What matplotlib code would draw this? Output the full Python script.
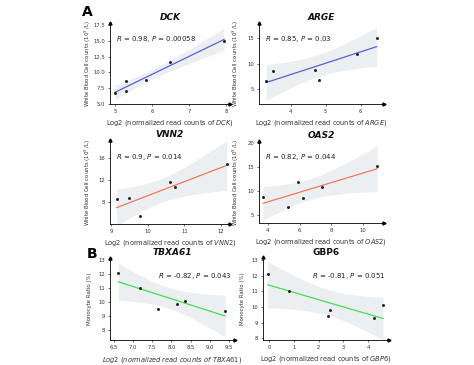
import numpy as np
import matplotlib.pyplot as plt

# datos
dck_x = [5.0, 5.3, 5.3, 5.85, 6.5, 7.95]
dck_y = [6.7, 7.0, 8.6, 8.8, 11.7, 15.0]

arge_x = [3.3, 3.5, 4.7, 4.8, 5.9, 6.45]
arge_y = [6.5, 8.5, 8.8, 6.8, 11.8, 15.0]

vnn2_x = [9.15, 9.5, 9.8, 10.6, 10.75, 12.15]
vnn2_y = [8.5, 8.7, 5.4, 11.7, 10.8, 15.0]

oas2_x = [3.7, 5.3, 5.9, 6.2, 7.4, 10.9]
oas2_y = [8.8, 6.6, 11.8, 8.6, 10.8, 15.1]

tbxa61_x = [6.62, 7.18, 7.65, 8.15, 8.35, 9.4]
tbxa61_y = [12.1, 11.0, 9.5, 9.9, 10.1, 9.4]

gbp6_x = [-0.05, 0.8, 2.4, 2.45, 4.25, 4.6]
gbp6_y = [12.1, 11.0, 9.4, 9.8, 9.3, 10.1]

textos = ["R = 0.98, P = 0.00058", "R = 0.85, P = 0.03", "R = 0.9, P = 0.014",
          "R = 0.82, P = 0.044", "R = -0.82, P = 0.043", "R = -0.81, P = 0.051"]

azul = "#5b5fd8"
naranja = "#f2785a"
verde = "#44dd55"
banda = "#eceff2"

wbc = "White Blood Cell counts (10$^9$ /L)"
mono = "Monocyte Ratio (%)"


def graficar(fig, pos, x, y, titulo, color, texto, ylab, xlim, ylim, xt, yt,
             fmt, texto_der=False, titulo_italic=True, xlab_italic=False):
    ax = fig.add_axes(pos)
    x = np.array(x)
    y = np.array(y)

    # recta de regresion y banda de confianza 95%
    b, a = np.polyfit(x, y, 1)
    xs = np.linspace(x.min(), x.max(), 100)
    ys = a + b * xs
    n = len(x)
    res = y - (a + b * x)
    s = np.sqrt(np.sum(res**2) / (n - 2))
    se = s * np.sqrt(1 / n + (xs - x.mean())**2 / np.sum((x - x.mean())**2))
    t = 2.776
    ax.fill_between(xs, ys - t * se, ys + t * se, color=banda, lw=0, zorder=1)
    ax.plot(xs, ys, color=color, lw=0.9, zorder=2)
    ax.scatter(x, y, s=1.3, color="#222222", zorder=3)

    ax.set_xlim(xlim)
    ax.set_ylim(ylim)
    ax.set_xticks(xt)
    ax.set_yticks(yt)
    ax.set_xticklabels([fmt[0] % v for v in xt])
    ax.set_yticklabels([fmt[1] % v for v in yt])
    ax.tick_params(labelsize=3.8, length=1.5, width=0.5, pad=2, colors="#333333")
    for lado in ["top", "right"]:
        ax.spines[lado].set_visible(False)
    for lado in ["left", "bottom"]:
        ax.spines[lado].set_linewidth(0.6)
    ax.plot(1, 0, ">k", ms=2.2, transform=ax.transAxes, clip_on=False)
    ax.plot(0, 1, "^k", ms=2.2, transform=ax.transAxes, clip_on=False)

    estilo = "italic" if titulo_italic else "normal"
    ax.set_title(titulo, fontsize=6.5, fontweight="bold", style=estilo, pad=2, color="#111111")

    r, p = texto.split(", ")
    txt = "$R$" + r[1:] + ", $P$" + p[1:]
    if texto_der:
        ax.text(0.97, 0.78, txt, transform=ax.transAxes, fontsize=5, ha="right", va="center", color="#222222")
    else:
        ax.text(0.05, 0.8, txt, transform=ax.transAxes, fontsize=5, ha="left", va="center", color="#222222")

    if xlab_italic:
        xl = "$\\it{Log2\\ (normalized\\ read\\ counts\\ of\\ " + titulo + ")}$"
        ax.set_xlabel(xl, fontsize=4.8, color="#333333")
    else:
        ax.set_xlabel("Log2 (normalized read counts of $\\it{" + titulo + "}$)", fontsize=4.8, color="#333333")
    ax.xaxis.set_label_coords(0.5, -0.17)
    ax.set_ylabel(ylab, fontsize=3.9, color="#333333")
    ax.yaxis.set_label_coords(-0.145, 0.5)
    return ax


fig = plt.figure(figsize=(4.74, 3.65), dpi=100)

graficar(fig, [0.232, 0.715, 0.253, 0.222], dck_x, dck_y, "DCK", azul, textos[0], wbc,
         (4.865, 8.11), (5.0, 17.8), [5, 6, 7, 8], [5.0, 7.5, 10.0, 12.5, 15.0, 17.5], ("%d", "%.1f"))
graficar(fig, [0.546, 0.715, 0.264, 0.222], arge_x, arge_y, "ARGE", azul, textos[1], wbc,
         (3.09, 6.66), (2.1, 17.9), [4, 5, 6], [5, 10, 15], ("%d", "%d"))
graficar(fig, [0.232, 0.386, 0.253, 0.230], vnn2_x, vnn2_y, "VNN2", naranja, textos[2], wbc,
         (8.97, 12.24), (4.0, 19.3), [9, 10, 11, 12], [8, 12, 16], ("%d", "%d"))
graficar(fig, [0.546, 0.389, 0.264, 0.225], oas2_x, oas2_y, "OAS2", naranja, textos[3], wbc,
         (3.43, 11.33), (3.33, 20.4), [4, 6, 8, 10], [5, 10, 15, 20], ("%d", "%d"))
graficar(fig, [0.232, 0.068, 0.264, 0.225], tbxa61_x, tbxa61_y, "TBXA61", verde, textos[4], mono,
         (6.4, 9.66), (7.29, 13.14), [6.5, 7.0, 7.5, 8.0, 8.5, 9.0, 9.5], [8, 9, 10, 11, 12, 13],
         ("%.1f", "%d"), texto_der=True, xlab_italic=True)
graficar(fig, [0.555, 0.068, 0.266, 0.227], gbp6_x, gbp6_y, "GBP6", verde, textos[5], mono,
         (-0.24, 4.85), (7.87, 13.19), [0, 1, 2, 3, 4], [8, 9, 10, 11, 12, 13],
         ("%d", "%d"), texto_der=True, titulo_italic=False)

fig.text(0.172, 0.955, "A", fontsize=10, fontweight="bold")
fig.text(0.183, 0.292, "B", fontsize=10, fontweight="bold")

fig.savefig("out.png", dpi=100)
